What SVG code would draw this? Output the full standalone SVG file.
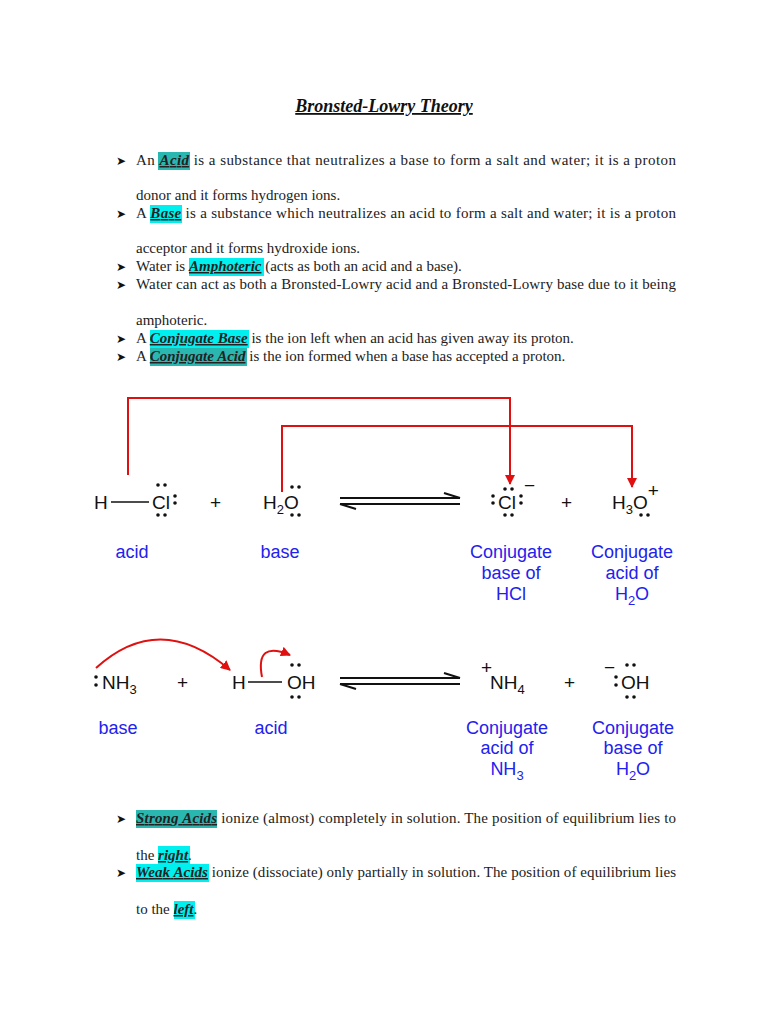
<svg xmlns="http://www.w3.org/2000/svg" width="768" height="1024" viewBox="0 0 768 1024">
<style>
.t{font-family:"Liberation Serif",serif;font-size:15px;fill:#222}
.k{font-weight:bold;font-style:italic;text-decoration:underline}
.b{font-family:"DejaVu Sans",sans-serif;font-size:12px;fill:#111}
.c{font-family:"Liberation Sans",Arial,sans-serif;font-size:19px;fill:#111}
.l{font-family:"Liberation Sans",Arial,sans-serif;font-size:18px;fill:#2222ee;text-anchor:middle}
.r{fill:none;stroke:#e01010;stroke-width:2}
.e{stroke:#111;stroke-width:2}
</style>
<defs>
<marker id="ah" viewBox="0 0 10 10" refX="9" refY="5" markerWidth="5" markerHeight="5" orient="auto"><path d="M0,0L10,5L0,10z" fill="#e01010"/></marker>
</defs>
<rect width="768" height="1024" fill="#fff"/>
<text x="384" y="112" text-anchor="middle" style="font-family:'Liberation Serif',serif;font-size:18px;font-weight:bold;font-style:italic;text-decoration:underline" fill="#111">Bronsted-Lowry Theory</text>
<g id="hl">
<rect x="158" y="152" width="32" height="18" fill="#2ab7b0"/>
<rect x="150" y="205" width="32" height="18" fill="#00f0f0"/>
<rect x="189" y="258" width="75" height="18" fill="#00f0f0"/>
<rect x="150" y="330" width="99" height="18" fill="#00f0f0"/>
<rect x="150" y="348" width="97" height="18" fill="#2ab7b0"/>
<rect x="136" y="810" width="81" height="18" fill="#2ab7b0"/>
<rect x="158" y="846" width="32" height="18" fill="#00f0f0"/>
<rect x="136" y="864" width="73" height="18" fill="#00f0f0"/>
<rect x="174" y="901" width="21" height="18" fill="#00f0f0"/>
</g>
<g id="text">
<text class="b" x="116" y="165">➤</text>
<text class="t" x="136" y="165" textLength="540" lengthAdjust="spacing">An <tspan class="k">Acid</tspan> is a substance that neutralizes a base to form a salt and water; it is a proton</text>
<text class="t" x="136" y="200">donor and it forms hydrogen ions.</text>
<text class="b" x="116" y="218">➤</text>
<text class="t" x="136" y="218" textLength="540" lengthAdjust="spacing">A <tspan class="k">Base</tspan> is a substance which neutralizes an acid to form a salt and water; it is a proton</text>
<text class="t" x="136" y="253">acceptor and it forms hydroxide ions.</text>
<text class="b" x="116" y="271">➤</text>
<text class="t" x="136" y="271">Water is <tspan class="k">Amphoteric</tspan> (acts as both an acid and a base).</text>
<text class="b" x="116" y="289">➤</text>
<text class="t" x="136" y="289" textLength="540" lengthAdjust="spacing">Water can act as both a Bronsted-Lowry acid and a Bronsted-Lowry base due to it being</text>
<text class="t" x="136" y="325">amphoteric.</text>
<text class="b" x="116" y="343">➤</text>
<text class="t" x="136" y="343">A <tspan class="k">Conjugate Base</tspan> is the ion left when an acid has given away its proton.</text>
<text class="b" x="116" y="361">➤</text>
<text class="t" x="136" y="361">A <tspan class="k">Conjugate Acid</tspan> is the ion formed when a base has accepted a proton.</text>
<text class="b" x="116" y="823">➤</text>
<text class="t" x="136" y="823" textLength="540" lengthAdjust="spacing"><tspan class="k">Strong Acids</tspan> ionize (almost) completely in solution. The position of equilibrium lies to</text>
<text class="t" x="136" y="860">the <tspan class="k">right</tspan>.</text>
<text class="b" x="116" y="877">➤</text>
<text class="t" x="136" y="877" textLength="540" lengthAdjust="spacing"><tspan class="k">Weak Acids</tspan> ionize (dissociate) only partially in solution. The position of equilibrium lies</text>
<text class="t" x="136" y="914">to the <tspan class="k">left</tspan>.</text>
</g>
<g id="connectors">
<path class="r" d="M128,475V398H510V484" marker-end="url(#ah)"/>
<path class="r" d="M282,492V426H632V487" marker-end="url(#ah)"/>
<path class="r" d="M96,668Q160,610 230,670" marker-end="url(#ah)"/>
<path class="r" d="M262,677Q255,640 290,655" marker-end="url(#ah)"/>
</g>
<g id="row1">
<text class="c" x="94" y="509">H</text>
<line x1="111" y1="502" x2="149" y2="502" stroke="#111" stroke-width="1.5"/>
<text class="c" x="152" y="509">Cl</text>
<g fill="#111"><circle cx="158" cy="485" r="1.8"/><circle cx="165" cy="485" r="1.8"/><circle cx="158" cy="515" r="1.8"/><circle cx="165" cy="515" r="1.8"/><circle cx="175" cy="496" r="1.8"/><circle cx="175" cy="503" r="1.8"/></g>
<text class="c" x="210" y="509">+</text>
<text class="c" x="263" y="509">H<tspan font-size="13" dy="5">2</tspan><tspan dy="-5">O</tspan></text>
<g fill="#111"><circle cx="292" cy="487" r="1.8"/><circle cx="299" cy="487" r="1.8"/><circle cx="292" cy="515" r="1.8"/><circle cx="299" cy="515" r="1.8"/></g>
<path class="e" d="M340,498H460" fill="none"/><path d="M460,498L444,493" stroke="#111" stroke-width="2"/>
<path class="e" d="M340,504H460" fill="none"/><path d="M340,504L356,509" stroke="#111" stroke-width="2"/>
<g fill="#111"><circle cx="493" cy="496" r="1.8"/><circle cx="493" cy="503" r="1.8"/><circle cx="505" cy="489" r="1.8"/><circle cx="512" cy="489" r="1.8"/><circle cx="505" cy="515" r="1.8"/><circle cx="512" cy="515" r="1.8"/><circle cx="521" cy="496" r="1.8"/><circle cx="521" cy="503" r="1.8"/></g>
<text class="c" x="498" y="509">Cl</text>
<text class="c" x="524" y="492" font-size="14">−</text>
<text class="c" x="561" y="509">+</text>
<text class="c" x="612" y="509">H<tspan font-size="13" dy="5">3</tspan><tspan dy="-5">O</tspan><tspan dy="-12">+</tspan></text>
<g fill="#111"><circle cx="641" cy="515" r="1.8"/><circle cx="648" cy="515" r="1.8"/></g>
</g>
<g id="labels1">
<text class="l" x="132" y="558">acid</text>
<text class="l" x="280" y="558">base</text>
<text class="l" x="511" y="558">Conjugate</text><text class="l" x="511" y="579">base of</text><text class="l" x="511" y="600">HCl</text>
<text class="l" x="632" y="558">Conjugate</text><text class="l" x="632" y="579">acid of</text><text class="l" x="632" y="600">H<tspan font-size="13" dy="5">2</tspan><tspan dy="-5">O</tspan></text>
</g>
<g id="row2">
<g fill="#111"><circle cx="96" cy="677" r="1.8"/><circle cx="96" cy="685" r="1.8"/></g>
<text class="c" x="102" y="689">NH<tspan font-size="13" dy="5">3</tspan></text>
<text class="c" x="177" y="689">+</text>
<text class="c" x="232" y="689">H</text>
<line x1="248" y1="682" x2="282" y2="682" stroke="#111" stroke-width="1.5"/>
<text class="c" x="287" y="689">OH</text>
<g fill="#111"><circle cx="292" cy="665" r="1.8"/><circle cx="299" cy="665" r="1.8"/><circle cx="292" cy="697" r="1.8"/><circle cx="299" cy="697" r="1.8"/></g>
<path class="e" d="M340,678H460" fill="none"/><path d="M460,678L444,673" stroke="#111" stroke-width="2"/>
<path class="e" d="M340,684H460" fill="none"/><path d="M340,684L356,689" stroke="#111" stroke-width="2"/>
<text class="c" x="481" y="674" font-size="15">+</text>
<text class="c" x="490" y="689">NH<tspan font-size="13" dy="5">4</tspan></text>
<text class="c" x="564" y="689">+</text>
<text class="c" x="604" y="674" font-size="15">−</text>
<g fill="#111"><circle cx="616" cy="677" r="1.8"/><circle cx="616" cy="685" r="1.8"/><circle cx="627" cy="665" r="1.8"/><circle cx="634" cy="665" r="1.8"/><circle cx="627" cy="697" r="1.8"/><circle cx="634" cy="697" r="1.8"/></g>
<text class="c" x="621" y="689">OH</text>
</g>
<g id="labels2">
<text class="l" x="118" y="734">base</text>
<text class="l" x="271" y="734">acid</text>
<text class="l" x="507" y="734">Conjugate</text><text class="l" x="507" y="754">acid of</text><text class="l" x="507" y="775">NH<tspan font-size="13" dy="5">3</tspan></text>
<text class="l" x="633" y="734">Conjugate</text><text class="l" x="633" y="754">base of</text><text class="l" x="633" y="775">H<tspan font-size="13" dy="5">2</tspan><tspan dy="-5">O</tspan></text>
</g>
</svg>
